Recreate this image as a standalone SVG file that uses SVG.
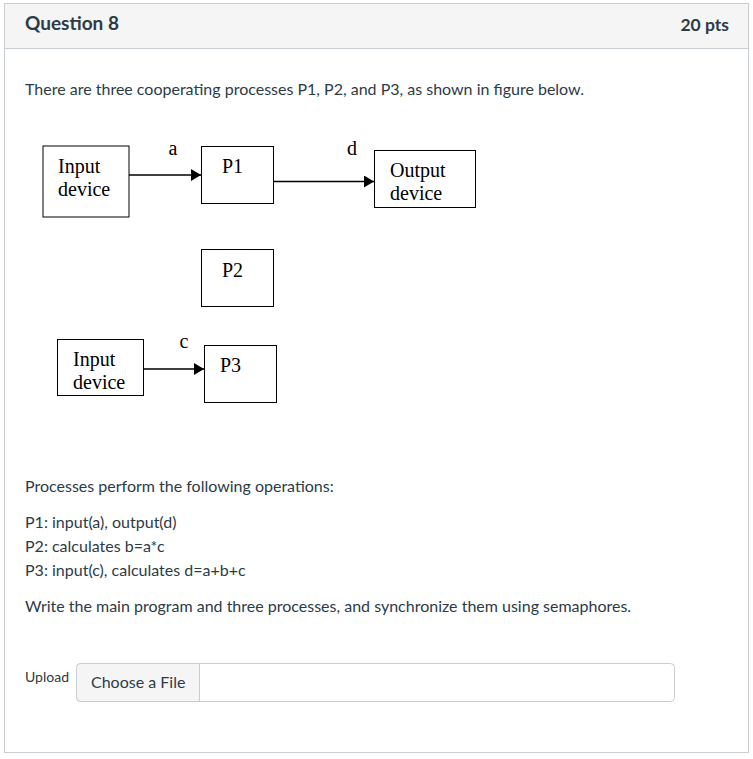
<svg xmlns="http://www.w3.org/2000/svg" width="753" height="759" viewBox="0 0 753 759">
<style>
.ui{font-family:Lato,"Open Sans","Liberation Sans",sans-serif;fill:#2d3b45}
.tm{font-family:"Liberation Serif","Times New Roman",serif;font-size:20px;fill:#000}
.box{fill:#fff;stroke:#000;stroke-width:1}
.ln{stroke:#000;stroke-width:1.5;fill:none}
</style>
<defs>
<marker id="ah" markerWidth="10" markerHeight="12" refX="10" refY="6" orient="auto" markerUnits="userSpaceOnUse">
<path d="M0,0 L10,6 L0,12 Z" fill="#000"/>
</marker>
</defs>
<rect x="4.5" y="3.5" width="744" height="749" fill="#fff" stroke="#c7cdd1"/>
<rect x="5" y="4" width="743" height="44" fill="#f5f5f5"/>
<line x1="4.5" y1="48.5" x2="748.5" y2="48.5" stroke="#c7cdd1"/>
<text class="ui" x="25" y="30" font-size="19" font-weight="bold">Question 8</text>
<text class="ui" x="729" y="31" font-size="17.5" font-weight="bold" text-anchor="end">20 pts</text>
<text class="ui" x="25" y="95" font-size="16">There are three cooperating processes P1, P2, and P3, as shown in figure below.</text>

<g id="connectors">
<line class="ln" x1="129" y1="175" x2="201" y2="175" marker-end="url(#ah)"/>
<line class="ln" x1="274" y1="181.5" x2="374" y2="181.5" marker-end="url(#ah)"/>
<line class="ln" x1="144" y1="369" x2="204" y2="369" marker-end="url(#ah)"/>
<text class="tm" x="173" y="155" text-anchor="middle">a</text>
<text class="tm" x="352" y="155" text-anchor="middle">d</text>
<text class="tm" x="184" y="348" text-anchor="middle">c</text>
</g>

<g id="input1">
<rect class="box" x="43" y="146" width="86" height="71"/>
<text class="tm" x="58" y="173">Input</text>
<text class="tm" x="58" y="196">device</text>
</g>
<g id="p1">
<rect class="box" x="201.5" y="146.5" width="72" height="57"/>
<text class="tm" x="222" y="173">P1</text>
</g>
<g id="output">
<rect class="box" x="374.5" y="150.5" width="101" height="57"/>
<text class="tm" x="390" y="177">Output</text>
<text class="tm" x="390" y="200">device</text>
</g>
<g id="p2">
<rect class="box" x="201.5" y="249.5" width="72" height="57"/>
<text class="tm" x="222" y="277">P2</text>
</g>
<g id="input2">
<rect class="box" x="57.5" y="339.5" width="86" height="56"/>
<text class="tm" x="73" y="366">Input</text>
<text class="tm" x="73" y="389">device</text>
</g>
<g id="p3">
<rect class="box" x="204.5" y="345.5" width="72" height="57"/>
<text class="tm" x="220" y="372">P3</text>
</g>

<text class="ui" x="25" y="492" font-size="16">Processes perform the following operations:</text>
<text class="ui" x="25" y="528" font-size="16">P1: input(a), output(d)</text>
<text class="ui" x="25" y="552" font-size="16">P2: calculates b=a*c</text>
<text class="ui" x="25" y="576" font-size="16">P3: input(c), calculates d=a+b+c</text>
<text class="ui" x="25" y="612" font-size="16">Write the main program and three processes, and synchronize them using semaphores.</text>

<text class="ui" x="25" y="682" font-size="14">Upload</text>
<rect x="76.5" y="663.5" width="598" height="38" rx="4" fill="#fff" stroke="#c7cdd1"/>
<path d="M80.5,663.5 H199.5 V701.5 H80.5 A4,4 0 0 1 76.5,697.5 V667.5 A4,4 0 0 1 80.5,663.5 Z" fill="#f5f5f5" stroke="#c7cdd1"/>
<text class="ui" x="91" y="688" font-size="16">Choose a File</text>
</svg>
